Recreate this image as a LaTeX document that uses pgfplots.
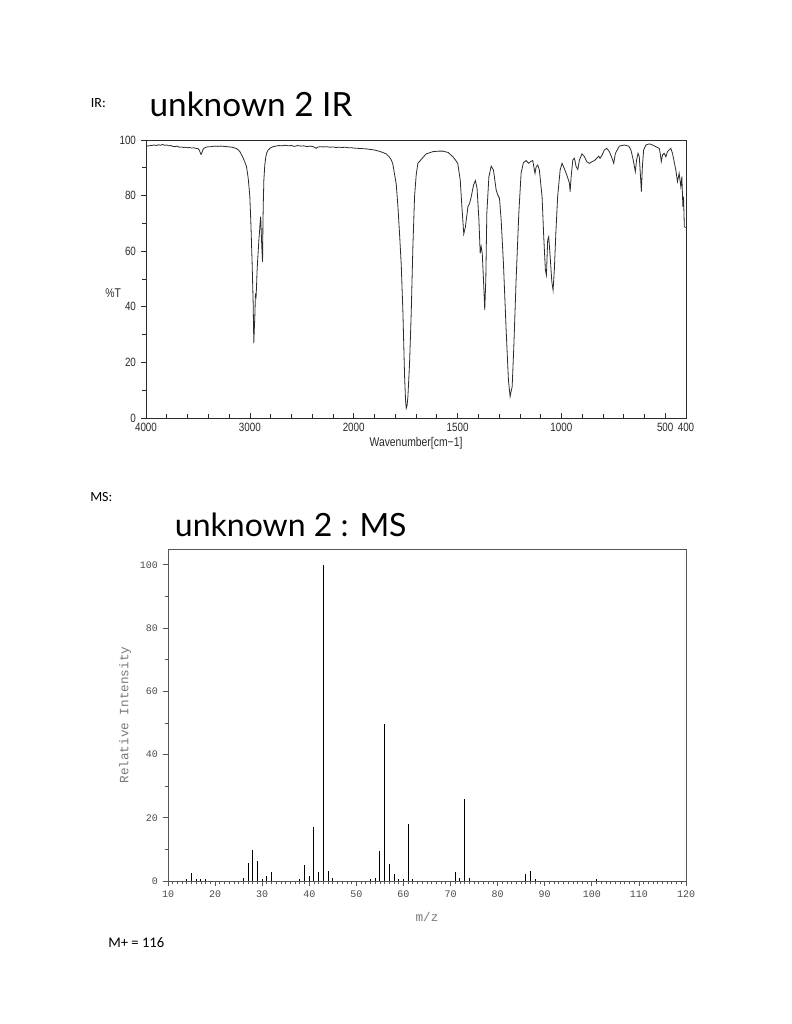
\documentclass[border=0pt]{standalone}
\usepackage{fontspec}
\usepackage{pgfplots}
\pgfplotsset{compat=1.18}
\setmainfont{Liberation Sans}
\newfontfamily\irfont{Liberation Sans}[FakeStretch=0.82]
\newfontfamily\msfont{Liberation Mono}
\newfontfamily\docfont{Carlito}
\newfontfamily\handfont{Lato}

\definecolor{irink}{HTML}{2B2B2B}
\definecolor{msaxis}{HTML}{555555}
\definecolor{mstext}{HTML}{4A4A4A}
\definecolor{mslabel}{HTML}{7A7A7A}

\begin{document}
\begin{tikzpicture}
\useasboundingbox[fill=white] (0,0) rectangle (594pt,768pt);

% text of the sheet
\node[anchor=west, inner sep=0pt, font=\docfont\fontsize{10.5}{12}\selectfont] at (68pt,690.5pt) {IR:};
\node[anchor=west, inner sep=0pt, font=\handfont\fontsize{25}{29}\selectfont] at (112pt,690pt) {unknown 2 IR};
\node[anchor=west, inner sep=0pt, font=\docfont\fontsize{10.5}{12}\selectfont] at (67.5pt,395.25pt) {MS:};
\node[anchor=west, inner sep=0pt, font=\handfont\fontsize{24}{28}\selectfont] at (131pt,374pt) {unknown 2 : MS};
\node[anchor=west, inner sep=0pt, font=\docfont\fontsize{11}{13}\selectfont] at (81pt,60.75pt) {M+ = 116};

% IR spectrum, wavenumber scale doubles below 2000
\begin{axis}[
  at={(109.5pt,454.5pt)}, anchor=south west,
  width=405pt, height=208.5pt, scale only axis,
  x coord trafo/.code={\pgfmathparse{(#1>=2000)*(4000-#1)+(#1<2000)*(6000-2*#1)}},
  xmin=4000, xmax=400, ymin=0, ymax=100,
  xtick={4000,3000,2000,1500,1000,500,400},
  xticklabels={4000,3000,2000,1500,1000,500,400},
  minor xtick={3800,3600,3400,3200,2800,2600,2400,2200,1900,1800,1700,1600,1400,1300,1200,1100,900,800,700,600},
  ytick={0,20,40,60,80,100},
  minor ytick={10,30,50,70,90},
  tick pos=left,
  xtick align=inside, ytick align=outside,
  major tick length=4pt, minor tick length=3pt,
  axis line style={draw=irink, line width=0.6pt},
  tick style={draw=irink, line width=0.5pt},
  /pgf/number format/assume math mode=true,
  ticklabel style={font=\irfont\fontsize{9}{10}\selectfont, text=irink},
  xlabel={Wavenumber[cm−1]},
  ylabel={\%T},
  xlabel style={at={(axis description cs:0.5,-0.09)}, anchor=center},
  ylabel style={rotate=-90, at={(axis description cs:-0.061,0.45)}, anchor=center},
  label style={font=\irfont\fontsize{9.5}{10}\selectfont, text=irink},
]
\addplot[irink, line width=0.6pt] coordinates {
(4000,97.6)(3980,97.9)(3950,98.0)(3920,98.2)(3900,98.0)(3880,98.3)(3860,98.1)(3840,98.4)
(3820,98.1)(3800,98.2)(3780,97.9)(3760,98.0)(3740,97.7)(3720,97.6)(3700,97.8)(3680,97.4)
(3660,97.5)(3640,97.3)(3620,97.4)(3600,97.2)(3580,97.3)(3560,97.1)(3540,97.2)(3520,97.0)
(3500,96.9)(3488,96.4)(3478,95.5)(3470,94.8)(3462,95.4)(3452,96.5)(3440,97.1)(3420,97.4)
(3400,97.6)(3370,97.6)(3340,97.8)(3310,97.7)(3280,97.8)(3250,97.7)(3220,97.6)(3190,97.5)
(3160,97.3)(3130,96.9)(3110,96.4)(3096,95.8)(3070,94.0)(3050,92.2)(3032,90.4)(3015,86.0)
(3000,79.6)(2990,70.0)(2985,64.0)(2978,55.6)(2972,47.0)(2968,41.2)(2964,32.0)(2962,26.9)
(2958,31.0)(2952,36.4)(2948,42.0)(2946,44.8)(2943,44.0)(2940,43.6)(2936,47.0)(2930,53.2)
(2922,58.5)(2913,64.0)(2905,68.0)(2897,72.4)(2894,71.0)(2891,67.6)(2885,61.6)(2878,56.2)
(2876,60.0)(2874,70.0)(2870,78.0)(2865,85.6)(2856,91.0)(2846,94.0)(2835,95.6)(2824,96.4)
(2800,97.2)(2776,97.6)(2750,97.8)(2720,98.0)(2690,97.9)(2660,98.1)(2630,97.9)(2600,98.0)
(2570,97.7)(2540,98.0)(2510,97.8)(2480,97.9)(2450,97.6)(2420,97.8)(2390,97.6)(2370,97.2)
(2360,97.0)(2350,97.4)(2320,97.6)(2290,97.5)(2260,97.6)(2230,97.4)(2200,97.5)(2170,97.3)
(2140,97.4)(2110,97.3)(2080,97.4)(2050,97.2)(2020,97.2)(2000,97.1)(1980,97.0)(1960,96.9)
(1940,96.8)(1920,96.6)(1900,96.4)(1880,96.0)(1860,95.5)(1843,95.0)(1830,94.0)(1820,93.0)
(1812,91.5)(1804,88.0)(1795,84.0)(1787,76.0)(1779,66.0)(1771,55.0)(1763,38.0)(1755,15.0)
(1750,6.0)(1747,3.5)(1743,4.5)(1739,7.7)(1731,19.7)(1723,37.7)(1715,61.6)(1707,79.6)
(1699,87.5)(1691,91.6)(1675,93.0)(1651,95.0)(1619,95.8)(1590,96.0)(1571,96.0)(1545,95.5)
(1523,94.0)(1510,92.8)(1499,91.6)(1487,85.6)(1479,76.0)(1470,66.2)(1462,68.8)(1450,76.0)
(1442,77.2)(1434,79.6)(1423,83.8)(1414,85.4)(1406,82.6)(1397,71.2)(1391,59.2)(1386,61.6)
(1381,59.2)(1375,49.6)(1369,38.8)(1364,49.6)(1359,73.6)(1349,86.8)(1338,90.6)(1327,89.2)
(1314,82.0)(1306,80.2)(1298,79.0)(1290,71.2)(1279,55.6)(1266,31.7)(1255,13.7)(1247,7.7)
(1237,11.3)(1229,25.7)(1218,49.6)(1205,73.6)(1194,88.0)(1183,91.8)(1170,92.6)(1157,91.6)
(1149,92.2)(1138,92.6)(1127,88.0)(1122,90.2)(1114,91.0)(1106,89.2)(1093,79.6)(1085,65.2)
(1077,53.2)(1072,51.4)(1066,64.0)(1061,65.2)(1054,58.0)(1046,49.0)(1040,46.0)(1034,53.2)
(1026,67.6)(1018,79.6)(1006,89.2)(997,91.6)(986,89.8)(974,87.4)(966,85.6)(961,84.4)
(958,81.4)(953,86.8)(945,92.8)(937,93.4)(929,90.4)(921,89.4)(913,92.8)(901,95.0)
(889,94.0)(878,92.2)(865,91.6)(852,92.2)(841,92.6)(830,93.4)(820,94.2)(814,93.4)
(804,94.6)(793,96.4)(782,97.0)(769,95.8)(756,93.4)(748,91.6)(740,95.2)(721,97.8)
(697,98.2)(676,97.8)(665,96.4)(654,92.8)(644,88.6)(638,92.8)(631,95.2)(625,94.0)
(618,85.6)(615,81.4)(610,90.4)(604,96.4)(593,98.2)(577,98.6)(561,98.2)(545,97.6)
(529,97.0)(524,95.2)(519,92.2)(513,94.6)(505,95.2)(497,94.0)(489,95.8)(481,96.4)
(473,97.0)(465,95.2)(457,92.2)(449,89.2)(441,85.0)(433,88.0)(425,83.2)(420,86.8)
(415,76.0)(412,79.6)(408,68.8)(402,68.5)
};
\end{axis}

% mass spectrum
\begin{axis}[
  at={(126pt,107.25pt)}, anchor=south west,
  width=388.5pt, height=249pt, scale only axis,
  xmin=10, xmax=120, ymin=0, ymax=105,
  xtick={10,20,30,40,50,60,70,80,90,100,110,120},
  minor x tick num=9,
  ytick={0,20,40,60,80,100},
  minor y tick num=1,
  tick align=outside, tick pos=left,
  major tick length=4pt, minor tick length=2.5pt,
  axis line style={draw=msaxis, line width=0.7pt},
  tick style={draw=msaxis, line width=0.6pt},
  /pgf/number format/assume math mode=true,
  ticklabel style={font=\msfont\fontsize{7.5}{9}\selectfont, text=mstext},
  xlabel={m/z},
  ylabel={Relative Intensity},
  xlabel style={at={(axis description cs:0.5,-0.108)}, anchor=center},
  ylabel style={at={(axis description cs:-0.083,0.5)}, anchor=center},
  label style={font=\msfont\fontsize{9.5}{11}\selectfont, text=mslabel},
]
\addplot[ycomb, black, line width=0.75pt] coordinates {
(14,0.5)(15,2.5)(16,0.5)(17,0.5)(18,0.6)(26,1.0)(27,5.8)(28,9.9)(29,6.3)(30,0.5)
(31,1.5)(32,2.8)(38,0.7)(39,5.0)(40,1.6)(41,17.1)(42,2.9)(43,100)(44,3.1)(45,1.0)
(53,0.6)(54,0.8)(55,9.5)(56,49.6)(57,5.3)(58,2.3)(59,0.5)(60,0.6)(61,18.0)(62,0.7)
(71,2.7)(72,0.8)(73,25.8)(74,1.0)(86,2.1)(87,3.1)(88,0.6)(101,0.5)
};
\end{axis}
\end{tikzpicture}
\end{document}
